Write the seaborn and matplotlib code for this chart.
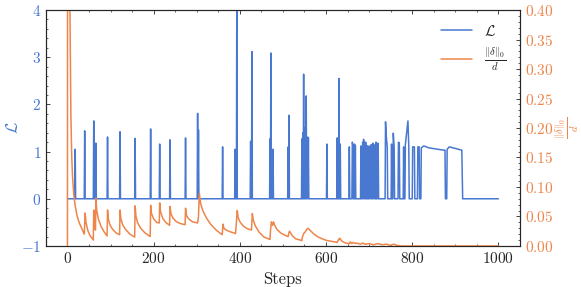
import numpy as np
import pandas as pd
import matplotlib
matplotlib.use('Agg')
import matplotlib.pyplot as plt
import seaborn as sns
from matplotlib.ticker import MultipleLocator

# Loss curve (knots: step, value)
loss_steps = [0, 17, 18, 19, 39, 40, 41, 60, 61, 62, 65, 66, 67, 92, 93, 94,
              121, 122, 123, 156, 157, 158, 192, 193, 194, 213, 214, 215,
              237, 238, 239, 273, 274, 275, 301, 302, 303, 304, 305,
              359, 360, 361, 388, 389, 390, 392, 393, 394,
              424, 425, 426, 427, 428, 429,
              469, 470, 471, 472, 473, 476, 477, 478,
              511, 512, 513, 514, 515,
              543, 544, 545, 546, 547, 548, 549, 550, 551, 552, 553, 554, 555, 556, 557, 558, 559, 560,
              601, 602, 603, 625, 626, 627, 629, 630, 631, 632, 633, 634,
              653, 654, 655, 660, 661, 662, 663, 665, 666, 667, 668, 669,
              680, 681, 682, 683, 684, 685, 686, 687, 688, 689, 690, 691, 692, 693, 694, 695,
              696, 697, 698, 699, 700, 701, 703, 704, 705, 706, 707, 708, 709, 710, 711, 712,
              713, 714, 715, 716, 717, 718, 719, 720, 721, 722,
              737, 738, 740, 742, 743, 751, 752, 753, 755, 756, 758, 759,
              767, 768, 770, 771, 779, 780, 781, 783, 784, 787, 790, 792, 793,
              800, 801, 805, 806, 812, 813, 816, 817,
              820, 821, 827, 838, 873, 876, 877, 880, 881, 886, 915, 917, 1000]
loss_vals = [0, 0, 1.05, 0, 0, 1.44, 0, 0, 1.65, 0, 0, 1.18, 0, 0, 1.31, 0,
             0, 1.42, 0, 0, 1.28, 0, 0, 1.48, 0, 0, 1.16, 0,
             0, 1.25, 0, 0, 1.29, 0, 0, 1.81, 0, 1.46, 0,
             0, 1.10, 0, 0, 1.05, 0, 0, 4.6, 0,
             0, 1.22, 0, 0, 3.12, 0,
             0, 1.27, 0, 3.09, 0, 0, 1.05, 0,
             0, 1.10, 0, 1.77, 0,
             0, 1.27, 0, 1.40, 0, 2.64, 0, 1.50, 0, 1.30, 0, 2.18, 0, 1.31, 1.20, 0, 1.30, 0,
             0, 1.16, 0, 0, 1.29, 0, 0, 2.55, 0, 0, 1.16, 0,
             0, 1.10, 0, 0, 1.20, 1.15, 0, 0, 1.16, 0, 1.13, 0,
             0, 1.12, 0, 1.10, 0, 1.20, 0, 1.26, 1.20, 0, 1.15, 0, 1.20, 0, 1.12, 0,
             1.12, 0, 1.10, 0, 1.12, 0, 1.10, 0, 1.15, 0, 1.12, 0, 1.18, 1.10, 0, 1.12,
             0, 1.15, 0, 1.20, 0, 1.12, 0, 1.18, 1.10, 0,
             0, 1.63, 1.30, 1.10, 0, 0, 1.16, 0, 0, 1.39, 1.10, 0,
             0, 1.20, 1.18, 0, 0, 1.10, 0, 0, 1.15, 1.40, 1.65, 1.10, 0,
             0, 1.10, 1.10, 0, 0, 1.10, 1.10, 0,
             0, 1.08, 1.12, 1.08, 1.03, 1.03, 0, 0, 1.05, 1.10, 1.03, 0, 0]

# Perturbation density ||delta||_0 / d (knots)
dens_steps = [0, 1, 2, 4, 6, 8, 10, 12, 15, 18, 22, 27, 33, 39,
              41, 43, 47, 52, 60, 61, 63, 65, 66, 68, 72, 78, 85, 92,
              93, 95, 99, 105, 113, 121, 122, 124, 128, 135, 145, 156,
              157, 159, 163, 170, 180, 192, 193, 195, 200, 207, 213,
              214, 216, 221, 228, 237, 238, 240, 245, 253, 262, 273,
              274, 276, 281, 290, 302, 304, 306, 309, 314, 322, 332, 345, 359,
              361, 363, 368, 378, 390, 394, 396, 401, 409, 418, 427,
              429, 431, 436, 445, 456, 470, 471, 473, 476, 478, 481, 486, 495, 505, 512,
              513, 515, 518, 522, 530, 540, 544,
              545, 549, 552, 555, 558, 561, 565, 572, 582, 595, 603, 612, 626,
              627, 631, 633, 637, 645, 655, 656, 660, 663, 668, 670, 680, 685, 690,
              700, 710, 720, 730, 740, 750, 757, 765, 775, 1000]
dens_vals = [0, 2.0, 1.0, 0.55, 0.38, 0.22, 0.15, 0.115, 0.085, 0.068, 0.052, 0.040, 0.030, 0.020,
             0.056, 0.040, 0.027, 0.018, 0.010, 0.061, 0.035, 0.027, 0.081, 0.060, 0.045, 0.033, 0.024, 0.017,
             0.061, 0.045, 0.035, 0.028, 0.022, 0.019, 0.061, 0.046, 0.036, 0.028, 0.020, 0.015,
             0.068, 0.050, 0.039, 0.030, 0.022, 0.016, 0.069, 0.055, 0.046, 0.040, 0.039,
             0.073, 0.058, 0.047, 0.040, 0.035, 0.067, 0.055, 0.047, 0.041, 0.038, 0.036,
             0.064, 0.052, 0.046, 0.041, 0.039, 0.050, 0.089, 0.072, 0.060, 0.048, 0.037, 0.027, 0.019,
             0.037, 0.030, 0.027, 0.024, 0.021, 0.060, 0.048, 0.040, 0.033, 0.029, 0.027,
             0.055, 0.044, 0.034, 0.023, 0.015, 0.011, 0.025, 0.041, 0.035, 0.041, 0.035, 0.028, 0.022, 0.018, 0.016,
             0.020, 0.025, 0.022, 0.017, 0.012, 0.010, 0.009,
             0.015, 0.022, 0.024, 0.028, 0.030, 0.028, 0.025, 0.020, 0.015, 0.011, 0.009, 0.008, 0.006,
             0.008, 0.013, 0.012, 0.008, 0.005, 0.004, 0.007, 0.004, 0.006, 0.004, 0.005, 0.003, 0.005, 0.003,
             0.004, 0.002, 0.004, 0.002, 0.003, 0.001, 0.003, 0.001, 0.0, 0.0]

loss_df = pd.DataFrame({'step': loss_steps, 'loss': loss_vals})
dens_df = pd.DataFrame({'step': dens_steps, 'density': dens_vals})

sns.set_theme(style='ticks')
plt.rcParams.update({
    'font.family': 'serif',
    'font.serif': ['cmr10'],
    'mathtext.fontset': 'cm',
    'axes.formatter.use_mathtext': True,
    'font.size': 10,
    'axes.linewidth': 0.8,
    'xtick.direction': 'in',
    'ytick.direction': 'in',
    'xtick.major.size': 3,
    'ytick.major.size': 3,
    'xtick.minor.size': 1.5,
    'ytick.minor.size': 1.5,
    'xtick.major.width': 0.6,
    'ytick.major.width': 0.6,
    'xtick.minor.width': 0.5,
    'ytick.minor.width': 0.5,
})

blue = '#4878d0'
orange = '#ee854a'

fig = plt.figure(figsize=(5.81, 2.87), dpi=100)
ax1 = fig.add_axes([0.079, 0.143, 0.816, 0.822])
ax2 = ax1.twinx()

sns.lineplot(data=loss_df, x='step', y='loss', ax=ax1, color=blue, linewidth=1.1,
             estimator=None, sort=False, legend=False)
sns.lineplot(data=dens_df, x='step', y='density', ax=ax2, color=orange, linewidth=1.1,
             estimator=None, sort=False, legend=False)

ax1.set_xlim(-50, 1050)
ax1.set_ylim(-1, 4)
ax2.set_ylim(0, 0.4)

ax1.xaxis.set_major_locator(MultipleLocator(200))
ax1.xaxis.set_minor_locator(MultipleLocator(50))
ax1.yaxis.set_major_locator(MultipleLocator(1))
ax1.yaxis.set_minor_locator(MultipleLocator(0.2))
ax2.yaxis.set_major_locator(MultipleLocator(0.05))
ax2.yaxis.set_minor_locator(MultipleLocator(0.01))

ax1.tick_params(axis='x', which='both', top=True, bottom=True)
ax1.tick_params(axis='y', which='both', left=True, right=False, labelcolor=blue)
ax2.tick_params(axis='y', which='both', left=False, right=True, labelcolor=orange)

ax1.set_xlabel('Steps')
ax1.set_ylabel(r'$\mathcal{L}$', color=blue, va='center')
ax2.set_ylabel(r'$\frac{\|\delta\|_0}{d}$', color=orange, va='center', fontsize=11)
ax1.yaxis.set_label_coords(-0.07, 0.5)
ax2.yaxis.set_label_coords(1.1, 0.5)

handles = [ax1.lines[0], ax2.lines[0]]
labels = [r'$\mathcal{L}$', r'$\frac{\|\delta\|_0}{d}$']
ax2.legend(handles, labels, loc='upper right', frameon=False)

fig.savefig('out.png', dpi=100)
